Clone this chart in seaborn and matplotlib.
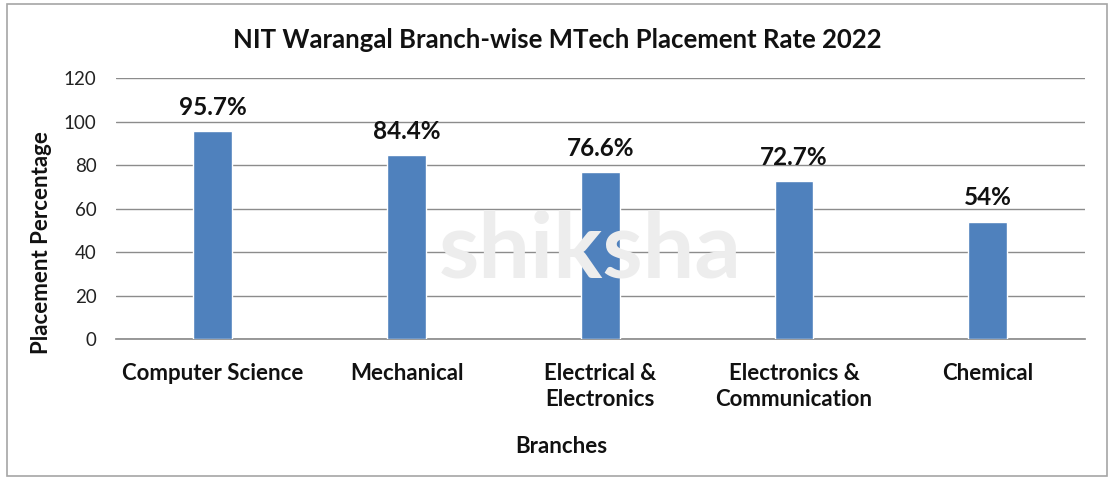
import matplotlib
matplotlib.use('Agg')
import matplotlib.pyplot as plt
import seaborn as sns
import pandas as pd
from matplotlib.patches import Rectangle

branches = ['Computer Science', 'Mechanical', 'Electrical &\nElectronics',
            'Electronics &\nCommunication', 'Chemical']
placement = [95.7, 84.4, 76.6, 72.7, 54]
value_labels = ['95.7%', '84.4%', '76.6%', '72.7%', '54%']
y_ticks = [0, 20, 40, 60, 80, 100, 120]

df = pd.DataFrame({'branch': branches, 'rate': placement})

sns.set_theme(style='white')
plt.rcParams['font.family'] = ['Lato', 'DejaVu Sans']

fig = plt.figure(figsize=(11.13, 4.83), dpi=100)
ax = fig.add_axes([0.1042, 0.2981, 0.8704, 0.5404])

sns.barplot(data=df, x='branch', y='rate', color='#4F81BD', width=0.2,
            saturation=1, ax=ax, zorder=3)

ax.set_ylim(0, 120)
ax.set_yticks(y_ticks)
ax.set_xlim(-0.5, len(branches) - 0.5)
ax.yaxis.grid(True, color='#8C8C8C', linewidth=1, zorder=0)
ax.set_axisbelow(True)
for s in ['top', 'right', 'left']:
    ax.spines[s].set_visible(False)
ax.spines['bottom'].set_color('#8C8C8C')
ax.tick_params(axis='y', labelsize=13.5, pad=14, length=0, colors='#222222')
ax.tick_params(axis='x', labelsize=16, pad=17, length=0)
for t in ax.get_xticklabels():
    t.set_fontweight('bold')
    t.set_color('#111111')
    t.set_linespacing(1.3)

for i, (v, lab) in enumerate(zip(placement, value_labels)):
    ax.annotate(lab, (i, v), xytext=(0, 17), textcoords='offset points',
                ha='center', va='center', fontsize=17.5, fontweight='bold',
                color='#111111')

ax.set_xlabel('Branches', fontsize=16, fontweight='bold', color='#111111')
ax.xaxis.set_label_coords(0.4595, -0.372)
ax.set_ylabel('Placement Percentage', fontsize=16, fontweight='bold', color='#111111')
ax.yaxis.set_label_coords(-0.066, 0.37)

fig.text(0.501, 0.918, 'NIT Warangal Branch-wise MTech Placement Rate 2022',
         ha='center', va='center', fontsize=18.5, fontweight='bold', color='#111111')

# faint watermark
fig.text(0.53, 0.48, 'shiksha', ha='center', va='center', fontsize=66,
         fontweight='bold', color='#EDEDED', zorder=0)

fig.patches.append(Rectangle((0.006, 0.014), 0.989, 0.977, transform=fig.transFigure,
                             fill=False, edgecolor='#A6A6A6', linewidth=1.2))

fig.savefig('out.png', dpi=100)
